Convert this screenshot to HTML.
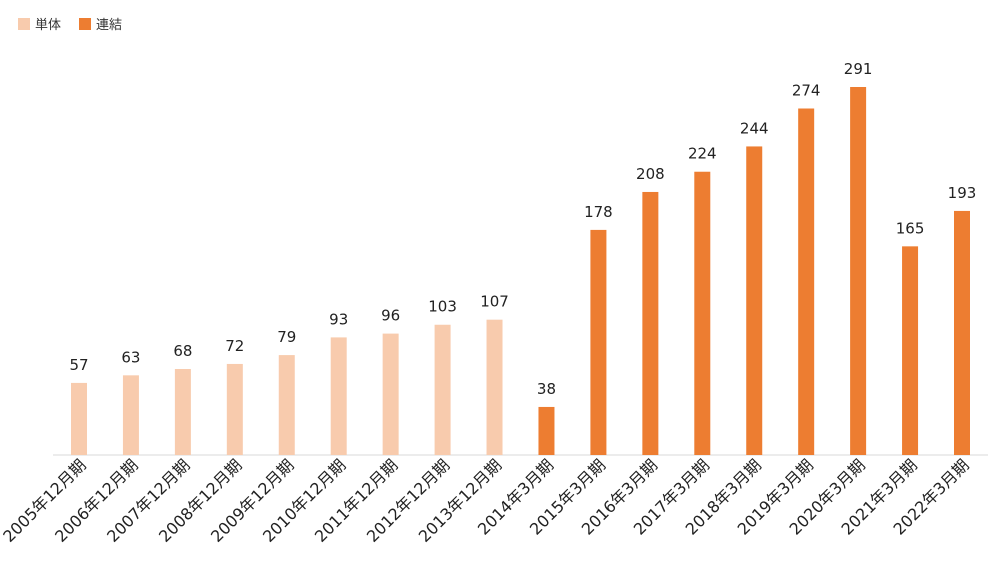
<!DOCTYPE html>
<html><head><meta charset="utf-8"><style>
body{margin:0;background:#fff;width:999px;height:562px;overflow:hidden}
svg{font-family:"DejaVu Sans","Noto Sans CJK JP",sans-serif}
</style></head><body>
<svg id="chart" width="999" height="562">
<g>
<rect x="18" y="18" width="12" height="12" fill="#F8CBAD"/>
<text x="35" y="29" font-size="13" fill="#333">単体</text>
<rect x="79" y="18" width="12" height="12" fill="#ED7D31"/>
<text x="96" y="29" font-size="13" fill="#333">連結</text>
</g>
<line x1="53" y1="455" x2="988" y2="455" stroke="#d9d9d9" stroke-width="1"/>
</svg>
<script>
const categories=["2005年12月期","2006年12月期","2007年12月期","2008年12月期","2009年12月期","2010年12月期","2011年12月期","2012年12月期","2013年12月期","2014年3月期","2015年3月期","2016年3月期","2017年3月期","2018年3月期","2019年3月期","2020年3月期","2021年3月期","2022年3月期"];
const values=[57,63,68,72,79,93,96,103,107,38,178,208,224,244,274,291,165,193];
const seriesType=["s","s","s","s","s","s","s","s","s","c","c","c","c","c","c","c","c","c"];
const ns="http://www.w3.org/2000/svg";
const svg=document.getElementById("chart");
const baseY=455, scale=1.2646;
const x0=79, step=(962-79)/17, bw=16;
const xf=i=>x0+i*step;
const yf=v=>baseY-v*scale;
categories.forEach((c,i)=>{
  const cx=xf(i), v=values[i];
  const r=document.createElementNS(ns,"rect");
  r.setAttribute("x",cx-bw/2);r.setAttribute("y",yf(v));
  r.setAttribute("width",bw);r.setAttribute("height",baseY-yf(v));
  r.setAttribute("fill",seriesType[i]==="s"?"#F8CBAD":"#ED7D31");
  
  
  svg.appendChild(r);
  const t=document.createElementNS(ns,"text");
  t.setAttribute("x",cx);t.setAttribute("y",yf(v)-13);
  t.setAttribute("text-anchor","middle");t.setAttribute("font-size","15");t.setAttribute("fill","#222");
  t.textContent=v;
  
  
  svg.appendChild(t);
  const l=document.createElementNS(ns,"text");
  l.setAttribute("transform","translate("+(cx+8)+",466) rotate(-45)");
  l.setAttribute("text-anchor","end");l.setAttribute("font-size","16");l.setAttribute("fill","#222");
  l.textContent=c;
  
  
  svg.appendChild(l);
});
</script>
</body></html>
